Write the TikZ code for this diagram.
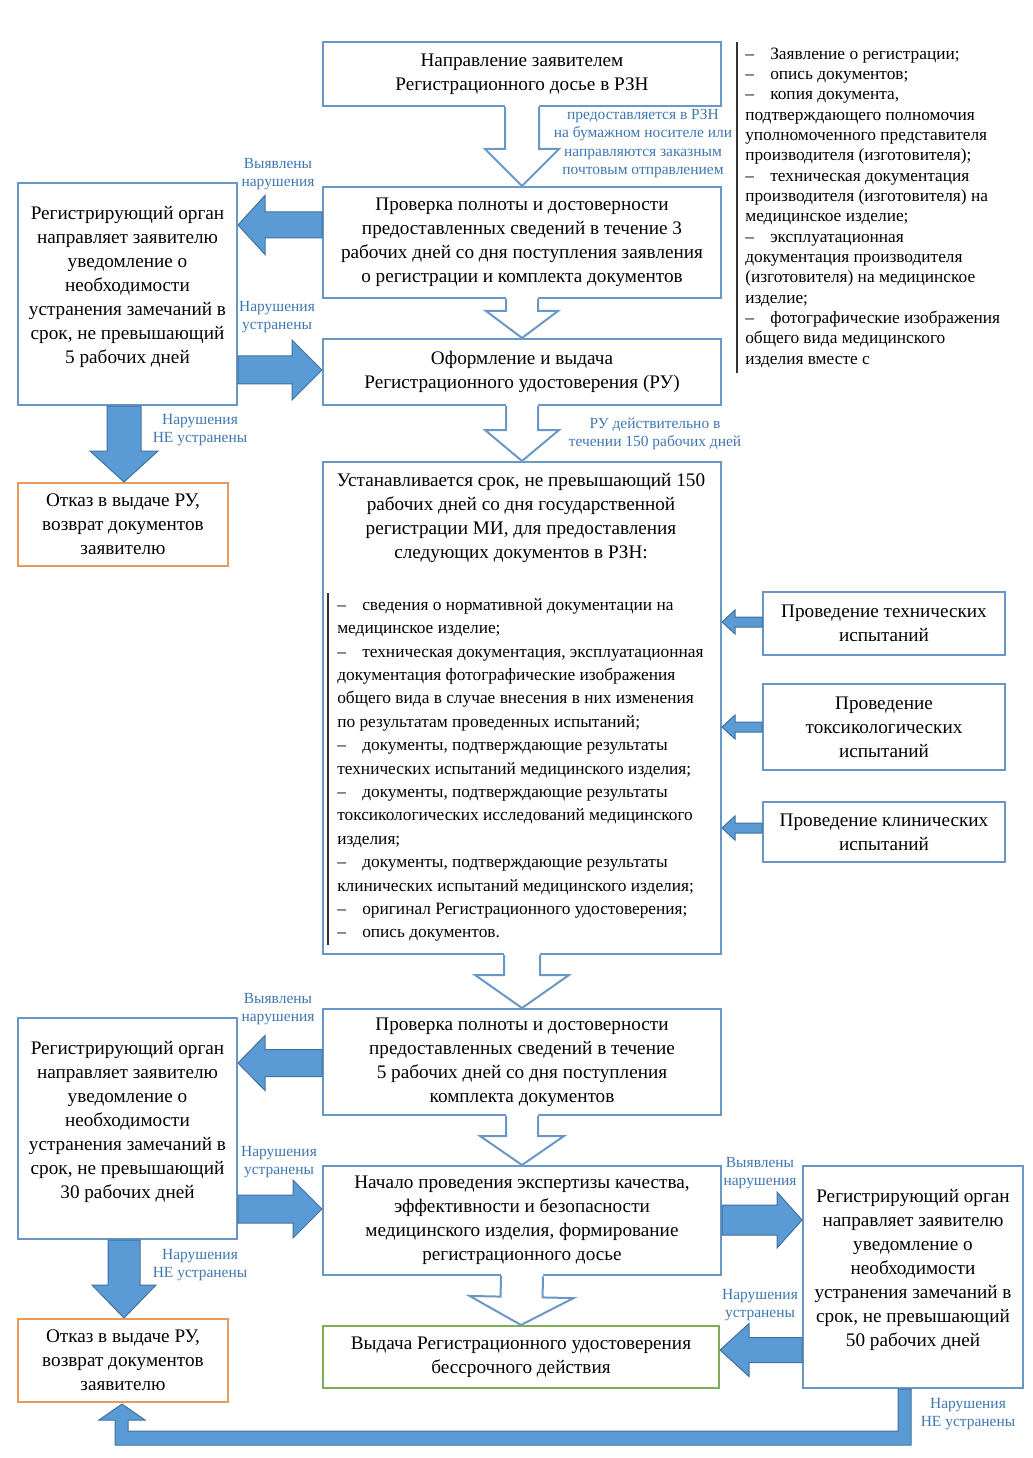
\documentclass[tikz,border=0pt]{standalone}
\usepackage{fontspec}
\setmainfont{Liberation Serif}
\usetikzlibrary{calc}
\definecolor{boxblue}{HTML}{6A98C6}
\definecolor{lblblue}{HTML}{3E78B2}
\definecolor{arrfill}{HTML}{5B9BD5}
\definecolor{arrline}{HTML}{41719C}
\definecolor{orangec}{HTML}{E9995A}
\definecolor{greenc}{HTML}{7DAE55}
\definecolor{listline}{HTML}{333333}
\newcommand{\mainsz}{\fontsize{14.4pt}{18pt}\selectfont}
\newcommand{\lblsz}{\fontsize{11.6pt}{13.6pt}\selectfont}
\newcommand{\rlsz}{\fontsize{13pt}{15.25pt}\selectfont}
\newcommand{\dlsz}{\fontsize{13pt}{17.55pt}\selectfont}
\newcommand{\dsh}{\makebox[18.75pt][l]{–}}
\newcommand{\BlkArrow}[5]{%
  \coordinate (bkb) at ($(#2)!#5*0.75pt!(#1)$);
  \filldraw[blk] ($(#1)!#3*0.75pt!90:(#2)$) -- ($(bkb)!#3*0.75pt!90:(#2)$) -- ($(bkb)!#4*0.75pt!90:(#2)$) -- (#2) -- ($(bkb)!#4*0.75pt!-90:(#2)$) -- ($(bkb)!#3*0.75pt!-90:(#2)$) -- ($(#1)!#3*0.75pt!-90:(#2)$) -- cycle;
}
\newcommand{\HolArrow}[5]{%
  \coordinate (hlb) at ($(#2)!#5*0.75pt!(#1)$);
  \coordinate (hls) at ($(#1)!-2pt!(#2)$);
  \fill[white] ($(hls)!#3*0.75pt!90:(#2)$) -- ($(hlb)!#3*0.75pt!90:(#2)$) -- ($(hlb)!#4*0.75pt!90:(#2)$) -- (#2) -- ($(hlb)!#4*0.75pt!-90:(#2)$) -- ($(hlb)!#3*0.75pt!-90:(#2)$) -- ($(hls)!#3*0.75pt!-90:(#2)$) -- cycle;
  \draw[hol] ($(#1)!#3*0.75pt!90:(#2)$) -- ($(hlb)!#3*0.75pt!90:(#2)$) -- ($(hlb)!#4*0.75pt!90:(#2)$) -- (#2) -- ($(hlb)!#4*0.75pt!-90:(#2)$) -- ($(hlb)!#3*0.75pt!-90:(#2)$) -- ($(#1)!#3*0.75pt!-90:(#2)$);
}
\tikzset{
  box/.style={draw=boxblue, line width=1.5pt, fill=white, inner sep=0pt, anchor=north west, align=center, font=\mainsz},
  kbox/.style={box, draw=orangec},
  gbox/.style={box, draw=greenc},
  txt/.style={font=\mainsz, align=center, inner sep=0pt},
  lbl/.style={text=lblblue, font=\lblsz, align=center, inner sep=0pt},
  blk/.style={fill=arrfill, draw=arrline, line width=0.75pt, line join=miter},
  hol/.style={draw=boxblue, line width=1.5pt, line join=miter},
  lst/.style={draw=listline, line width=0.8pt},
}
\begin{document}
\begin{tikzpicture}[x=0.75pt,y=-0.75pt]
\useasboundingbox (0,0) rectangle (1032,1458);
\fill[white] (0,0) rectangle (1032,1458);

% ---- main column boxes
\node[box, minimum width=298.5pt, minimum height=48pt] (A) at (322,41) {Направление заявителем\\Регистрационного досье в РЗН};
\node[box, minimum width=298.5pt, minimum height=83.25pt] (B) at (322,186) {Проверка полноты и достоверности\\предоставленных сведений в течение 3\\рабочих дней со дня поступления заявления\\о регистрации и комплекта документов};
\node[box, minimum width=298.5pt, minimum height=49.5pt] (C) at (322,338) {Оформление и выдача\\Регистрационного удостоверения (РУ)};
\node[box, minimum width=298.5pt, minimum height=369pt] (D) at (322,461) {};
\node[box, minimum width=298.5pt, minimum height=79.5pt] (F) at (322,1008) {Проверка полноты и достоверности\\предоставленных сведений в течение\\5 рабочих дней со дня поступления\\комплекта документов};
\node[box, minimum width=298.5pt, minimum height=81.75pt] (G) at (322,1165) {Начало проведения экспертизы качества,\\эффективности и безопасности\\медицинского изделия, формирование\\регистрационного досье};
\node[gbox, minimum width=297pt, minimum height=46.5pt] (H) at (322,1325) {Выдача Регистрационного удостоверения\\бессрочного действия};

% ---- left column
\node[box, minimum width=164.25pt, minimum height=166.5pt] (L1) at (17,182) {};
\node[txt] (L1t) at ($(L1.center)+(0,-7)$) {Регистрирующий орган\\направляет заявителю\\уведомление о\\необходимости\\устранения замечаний в\\срок, не превышающий\\5 рабочих дней};
\node[kbox, minimum width=157.5pt, minimum height=62.25pt] (K1) at (17,482) {Отказ в выдаче РУ,\\возврат документов\\заявителю};
\node[box, minimum width=164.25pt, minimum height=165.75pt] (L2) at (17,1017) {};
\node[txt] (L2t) at ($(L2.center)+(0,-7)$) {Регистрирующий орган\\направляет заявителю\\уведомление о\\необходимости\\устранения замечаний в\\срок, не превышающий\\30 рабочих дней};
\node[kbox, minimum width=157.5pt, minimum height=62.25pt] (K2) at (17,1318) {Отказ в выдаче РУ,\\возврат документов\\заявителю};

% ---- right column
\node[box, minimum width=165pt, minimum height=166.5pt] (R) at (802,1165) {};
\node[txt] (Rt) at ($(R.center)+(0,-7)$) {Регистрирующий орган\\направляет заявителю\\уведомление о\\необходимости\\устранения замечаний в\\срок, не превышающий\\50 рабочих дней};
\node[box, minimum width=181.5pt, minimum height=47.25pt] (E1) at (762,591) {Проведение технических\\испытаний};
\node[box, minimum width=181.5pt, minimum height=64.5pt] (E2) at (762,683) {Проведение\\токсикологических\\испытаний};
\node[box, minimum width=181.5pt, minimum height=45pt] (E3) at (762,801) {Проведение клинических\\испытаний};

% ---- contents of D
\node[txt] (Dh) at (521,517.5) {Устанавливается срок, не превышающий 150\\рабочих дней со дня государственной\\регистрации МИ, для предоставления\\следующих документов в РЗН:};
\node[font=\dlsz, align=left, inner sep=0pt, anchor=west] (Dl) at (337,770) {\dsh сведения о нормативной документации на\\медицинское изделие;\\\dsh техническая документация, эксплуатационная\\документация фотографические изображения\\общего вида в случае внесения в них изменения\\по результатам проведенных испытаний;\\\dsh документы, подтверждающие результаты\\технических испытаний медицинского изделия;\\\dsh документы, подтверждающие результаты\\токсикологических исследований медицинского\\изделия;\\\dsh документы, подтверждающие результаты\\клинических испытаний медицинского изделия;\\\dsh оригинал Регистрационного удостоверения;\\\dsh опись документов.};
\draw[lst] (328,593) -- (328,945);

% ---- right list
\node[font=\rlsz, align=left, inner sep=0pt, anchor=west] (RL) at (745,207.5) {\dsh Заявление о регистрации;\\\dsh опись документов;\\\dsh копия документа,\\подтверждающего полномочия\\уполномоченного представителя\\производителя (изготовителя);\\\dsh техническая документация\\производителя (изготовителя) на\\медицинское изделие;\\\dsh эксплуатационная\\документация производителя\\(изготовителя) на медицинское\\изделие;\\\dsh фотографические изображения\\общего вида медицинского\\изделия вместе с};
\draw[lst] (737,42) -- (737,373);

% ---- hollow arrows
\coordinate (h1s) at (A.south); \coordinate (h1t) at (B.north);
\HolArrow{h1s}{h1t}{17}{37}{37}
\coordinate (h2s) at (B.south); \coordinate (h2t) at (C.north);
\HolArrow{h2s}{h2t}{16}{36}{27}
\coordinate (h3s) at (C.south); \coordinate (h3t) at (D.north);
\HolArrow{h3s}{h3t}{16}{37}{31}
\coordinate (h4s) at (D.south); \coordinate (h4t) at (F.north);
\HolArrow{h4s}{h4t}{18}{47}{33}
\coordinate (h5s) at (F.south); \coordinate (h5t) at (G.north);
\HolArrow{h5s}{h5t}{16}{42}{29}
\coordinate (h6s) at (G.south); \coordinate (h6t) at (H.north);
\HolArrow{h6s}{h6t}{21}{52}{28}

% ---- solid arrows
\coordinate (a1s) at ($(B.north west)+(0,39)$); \coordinate (a1t) at (L1.east |- a1s);
\BlkArrow{a1s}{a1t}{13}{29.5}{27}
\coordinate (a2s) at ($(L1.north east)+(0,188)$); \coordinate (a2t) at (C.west |- a2s);
\BlkArrow{a2s}{a2t}{14}{30}{30}
\coordinate (a3s) at ($(L1.south west)+(107,0)$); \coordinate (a3t) at (a3s |- K1.north);
\BlkArrow{a3s}{a3t}{17}{34}{31}
\coordinate (a4s) at ($(F.north west)+(0,55)$); \coordinate (a4t) at (L2.east |- a4s);
\BlkArrow{a4s}{a4t}{13.5}{27.5}{27}
\coordinate (a5s) at ($(L2.north east)+(0,192)$); \coordinate (a5t) at (G.west |- a5s);
\BlkArrow{a5s}{a5t}{14}{29}{29}
\coordinate (a6s) at ($(L2.south west)+(107,0)$); \coordinate (a6t) at (a6s |- K2.north);
\BlkArrow{a6s}{a6t}{16}{32}{33}
\coordinate (a7s) at ($(G.north east)+(0,55)$); \coordinate (a7t) at (R.west |- a7s);
\BlkArrow{a7s}{a7t}{15}{28}{25}
\coordinate (a8s) at ($(R.north west)+(0,185)$); \coordinate (a8t) at (H.east |- a8s);
\BlkArrow{a8s}{a8t}{12.5}{26.5}{29}
\coordinate (e1s) at ($(E1.north west)+(0,31)$); \coordinate (e1t) at (D.east |- e1s);
\BlkArrow{e1s}{e1t}{5}{12}{13}
\coordinate (e2s) at ($(E2.north west)+(0,44)$); \coordinate (e2t) at (D.east |- e2s);
\BlkArrow{e2s}{e2t}{5}{12}{13}
\coordinate (e3s) at ($(E3.north west)+(0,27)$); \coordinate (e3t) at (D.east |- e3s);
\BlkArrow{e3s}{e3t}{5}{12}{13}

% ---- return arrow R -> K2
\coordinate (Ls) at ($(R.south west)+(96,0)$);
\coordinate (Lt) at ($(K2.south west)+(105,1)$);
\filldraw[blk] (Ls) -- ++(0,42) -- ++(-770,0) -- ++(0,-11) -- ++(17,0) -- (Lt) -- ++(-23,16) -- ++(16,0) -- ++(0,25) -- ++(796,0) -- ++(0,-56) -- cycle;

% ---- labels
\node[lbl] (lb1) at (643,143.5) {предоставляется в РЗН\\на бумажном носителе или\\направляются заказным\\почтовым отправлением};
\node[lbl] (lb2) at (278,174) {Выявлены\\нарушения};
\node[lbl] (lb3) at (277,317.5) {Нарушения\\устранены};
\node[lbl] (lb4) at (200,430) {Нарушения\\НЕ устранены};
\node[lbl] (lb5) at (655,434) {РУ действительно в\\течении 150 рабочих дней};
\node[lbl] (lb6) at (278,1009) {Выявлены\\нарушения};
\node[lbl] (lb7) at (279,1162) {Нарушения\\устранены};
\node[lbl] (lb8) at (200,1265) {Нарушения\\НЕ устранены};
\node[lbl] (lb9) at (760,1173) {Выявлены\\нарушения};
\node[lbl] (lb10) at (760,1305.5) {Нарушения\\устранены};
\node[lbl] (lb11) at (968,1414) {Нарушения\\НЕ устранены};
\end{tikzpicture}
\end{document}
